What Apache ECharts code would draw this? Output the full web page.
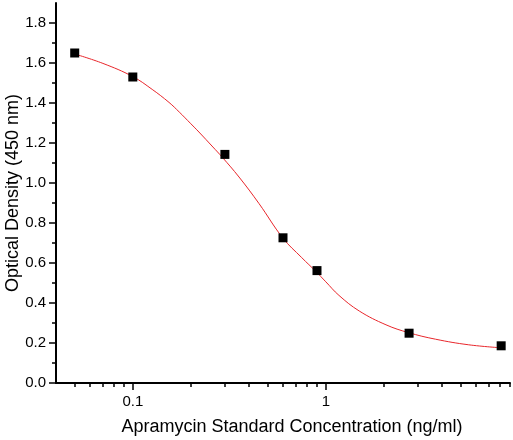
<!DOCTYPE html>
<html>
<head>
<meta charset="utf-8">
<script src="https://cdn.jsdelivr.net/npm/echarts@6/dist/echarts.min.js"></script>
<style>
html,body{margin:0;padding:0;background:#fff;}
#chart{width:513px;height:440px;}
</style>
</head>
<body>
<div id="chart"></div>
<script>
// Measured standards
const conc = [0.05, 0.1, 0.3, 0.6, 0.9, 2.7, 8.1];
const od = [1.65, 1.53, 1.143, 0.726, 0.562, 0.249, 0.186];
// Fitted curve
const fitX = [0.05, 0.07, 0.1, 0.126, 0.154, 0.174, 0.2, 0.22, 0.26, 0.29, 0.355, 0.45, 0.6, 0.75, 0.89, 1.0, 1.17, 1.49, 2.05, 2.68, 3.7, 5.5, 8.1];
const fitY = [1.645, 1.598, 1.532, 1.468, 1.403, 1.355, 1.296, 1.255, 1.180, 1.130, 1.030, 0.898, 0.724, 0.627, 0.557, 0.506, 0.438, 0.360, 0.291, 0.252, 0.219, 0.191, 0.176];
// Axis ticks
const xMajor = [0.1, 1];
const xMinor = [0.05, 0.06, 0.07, 0.08, 0.09, 0.2, 0.3, 0.4, 0.5, 0.6, 0.7, 0.8, 0.9, 2, 3, 4, 5, 6, 7, 8, 9];
const yMajor = [0, 0.2, 0.4, 0.6, 0.8, 1.0, 1.2, 1.4, 1.6, 1.8];
const yMinor = [0.1, 0.3, 0.5, 0.7, 0.9, 1.1, 1.3, 1.5, 1.7];
const xRange = [0.04, 9];
const yRange = [0, 1.9];

const font = 'Liberation Sans, Arial, sans-serif';
const chart = echarts.init(document.getElementById('chart'), null, {renderer: 'canvas'});
const axisLineStyle = {color: '#000', width: 2};

chart.setOption({
  animation: false,
  grid: {left: 56, right: 3, top: 3, bottom: 57, containLabel: false, outerBoundsMode: 'none'},
  xAxis: [
    {
      type: 'log', logBase: 10, min: xRange[0], max: xRange[1], position: 'bottom',
      name: 'Apramycin Standard Concentration (ng/ml)', nameLocation: 'middle', nameGap: 35,
      nameMoveOverlap: false,
      nameTextStyle: {fontFamily: font, fontSize: 18, color: '#000', padding: [0, 0, 0, 18]},
      axisLine: {show: true, lineStyle: axisLineStyle},
      axisTick: {show: true, length: 7, customValues: xMajor, lineStyle: {color: '#000', width: 1.5}},
      axisLabel: {customValues: xMajor, margin: 11, fontFamily: font, fontSize: 15, color: '#000',
        formatter: v => String(v)},
      splitLine: {show: false}, minorTick: {show: false}, minorSplitLine: {show: false}
    },
    {
      type: 'log', logBase: 10, min: xRange[0], max: xRange[1], position: 'bottom',
      axisLine: {show: false},
      axisTick: {show: true, length: 4, customValues: xMinor, lineStyle: {color: '#000', width: 1.5}},
      axisLabel: {show: false}, splitLine: {show: false}
    }
  ],
  yAxis: [
    {
      type: 'value', min: yRange[0], max: yRange[1], position: 'left',
      name: 'Optical Density (450 nm)', nameLocation: 'middle', nameGap: 34,
      nameMoveOverlap: false,
      nameTextStyle: {fontFamily: font, fontSize: 18, color: '#000'},
      axisLine: {show: true, lineStyle: axisLineStyle},
      axisTick: {show: true, length: 7, customValues: yMajor, lineStyle: {color: '#000', width: 1.5}},
      axisLabel: {customValues: yMajor, margin: 10, fontFamily: font, fontSize: 15, color: '#000',
        formatter: v => v.toFixed(1)},
      splitLine: {show: false}
    },
    {
      type: 'value', min: yRange[0], max: yRange[1], position: 'left',
      axisLine: {show: false},
      axisTick: {show: true, length: 4, customValues: yMinor, lineStyle: {color: '#000', width: 1.5}},
      axisLabel: {show: false}, splitLine: {show: false}
    }
  ],
  series: [
    {
      type: 'line', xAxisIndex: 0, yAxisIndex: 0,
      data: fitX.map((x, i) => [x, fitY[i]]),
      smooth: 0.4, showSymbol: false, symbol: 'none',
      lineStyle: {color: '#e8262b', width: 1}, z: 2
    },
    {
      type: 'scatter', xAxisIndex: 0, yAxisIndex: 0,
      data: conc.map((x, i) => [x, od[i]]),
      symbol: 'rect', symbolSize: 9,
      itemStyle: {color: '#000', opacity: 1}, z: 3
    }
  ]
});
</script>
</body>
</html>
